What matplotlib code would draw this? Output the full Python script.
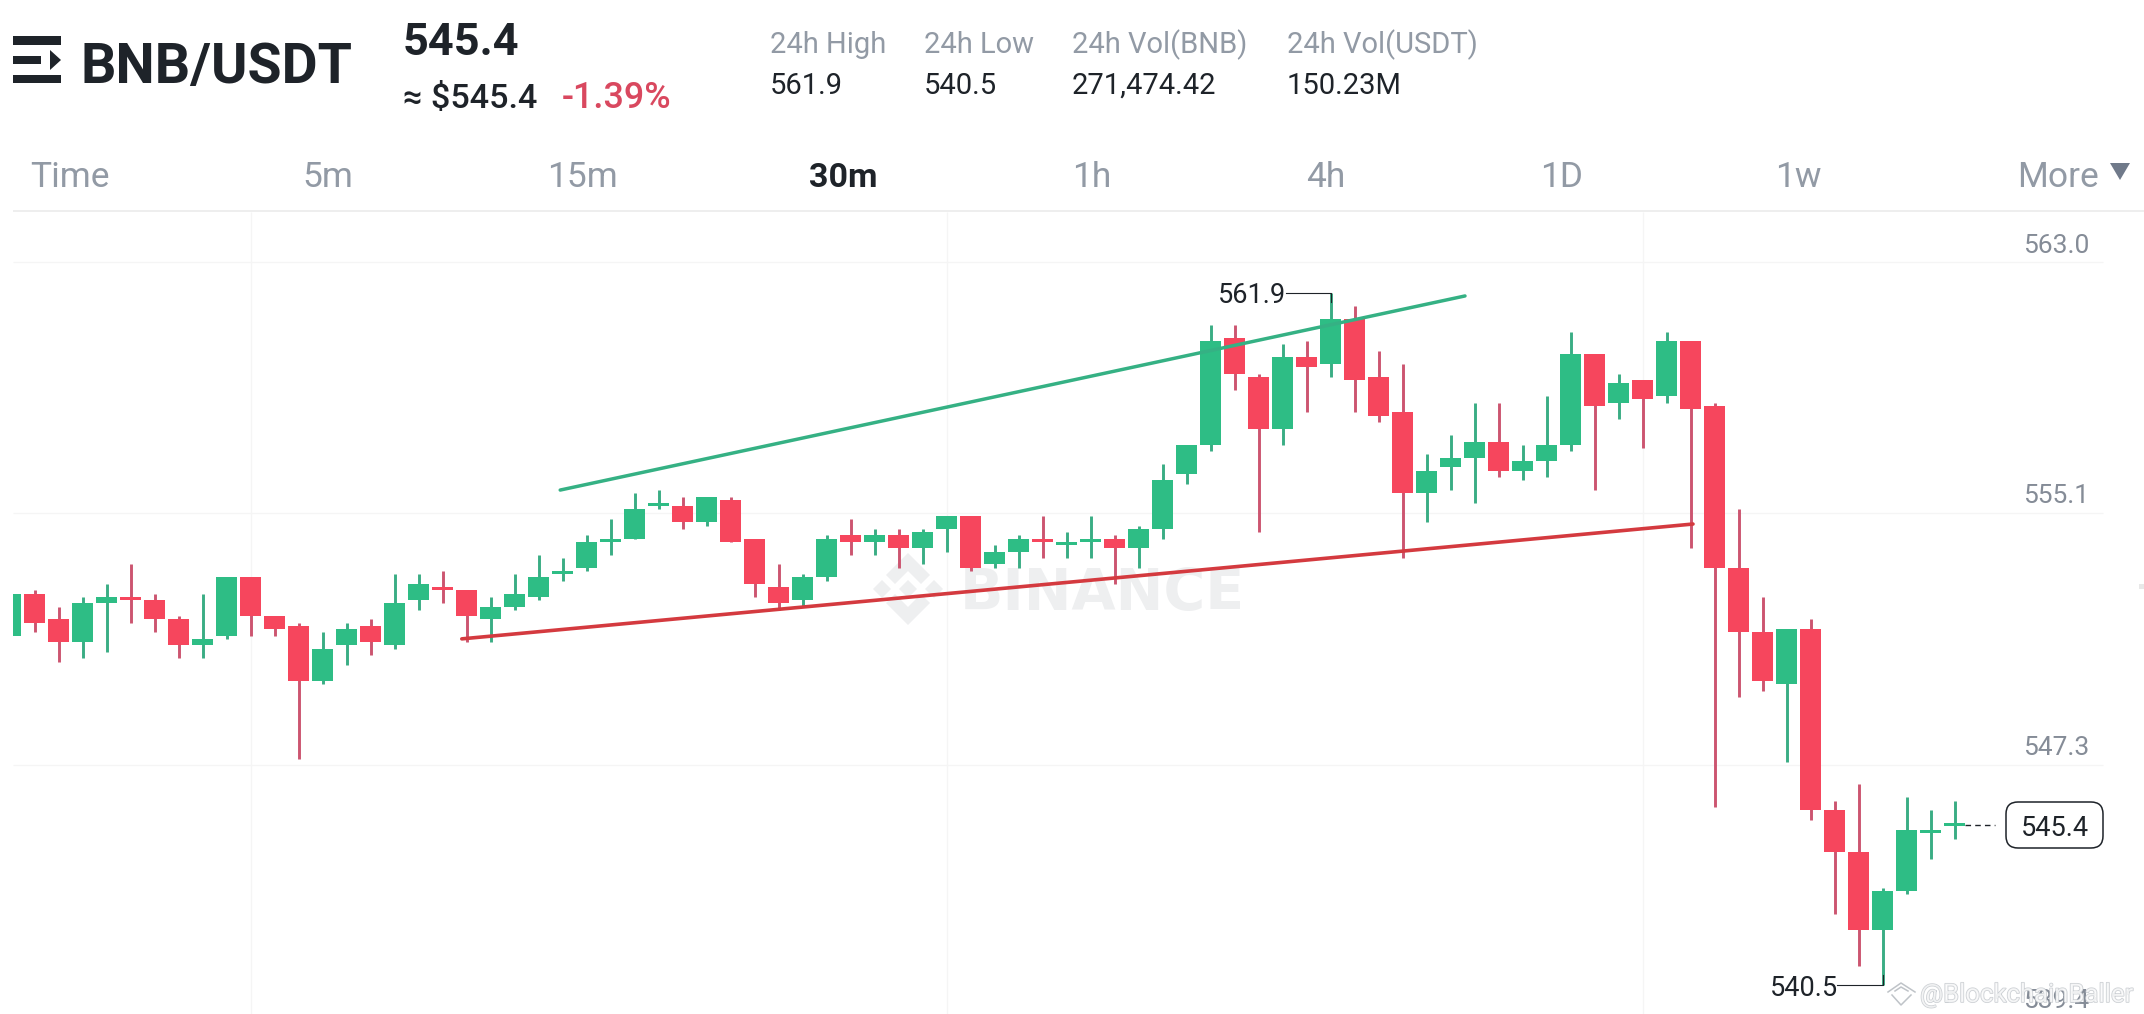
import matplotlib
matplotlib.use("Agg")
import matplotlib.patheffects as pe
import matplotlib.pyplot as plt
from matplotlib.patches import FancyBboxPatch, Polygon, Rectangle

plt.rcParams["font.family"] = ["Roboto", "DejaVu Sans"]

# ohlc, left to right
opens = [551.3, 552.6, 551.8, 551.1, 552.3, 552.5, 552.4, 551.8, 551.0, 551.3,
         553.1, 551.9, 551.6, 549.9, 551.0, 551.6, 551.0, 552.4, 552.8, 552.7,
         551.8, 552.2, 552.5, 553.2, 553.4, 554.2, 554.3, 555.3, 555.3, 554.8,
         555.5, 554.3, 552.8, 552.4, 553.1, 554.4, 554.2, 554.4, 554.0, 554.6,
         555.0, 553.5, 553.9, 554.3, 554.1, 554.2, 554.3, 554.0, 554.6, 556.3,
         557.2, 560.5, 559.3, 557.7, 559.9, 559.7, 561.1, 559.3, 558.2, 555.7,
         556.5, 556.8, 557.3, 556.4, 556.7, 557.2, 560.0, 558.5, 559.2, 558.7,
         560.4, 558.4, 553.4, 551.4, 549.8, 551.5, 545.9, 544.6, 542.2, 543.4,
         545.2, 545.4]
closes = [552.6, 551.7, 551.1, 552.3, 552.5, 552.4, 551.8, 551.0, 551.2, 553.1,
          551.9, 551.5, 549.9, 550.9, 551.5, 551.1, 552.3, 552.9, 552.7, 551.9,
          552.2, 552.6, 553.1, 553.3, 554.2, 554.3, 555.2, 555.4, 554.8, 555.6,
          554.2, 552.9, 552.3, 553.1, 554.3, 554.2, 554.4, 554.0, 554.5, 555.0,
          553.4, 553.9, 554.3, 554.2, 554.2, 554.3, 554.0, 554.6, 556.1, 557.2,
          560.4, 559.4, 557.7, 559.9, 559.6, 561.1, 559.2, 558.1, 555.7, 556.4,
          556.8, 557.3, 556.4, 556.7, 557.2, 560.0, 558.4, 559.1, 558.6, 560.4,
          558.3, 553.4, 551.4, 549.9, 551.5, 545.9, 544.6, 542.2, 543.4, 545.3,
          545.3, 545.5]
highs = [552.6, 552.7, 552.2, 552.5, 552.9, 553.5, 552.6, 551.9, 552.6, 553.1,
         553.1, 551.9, 551.7, 551.4, 551.7, 551.8, 553.2, 553.2, 553.3, 552.7,
         552.5, 553.2, 553.8, 553.7, 554.4, 554.9, 555.7, 555.8, 555.6, 555.6,
         555.6, 554.3, 553.5, 553.2, 554.4, 554.9, 554.6, 554.6, 554.6, 555.0,
         555.0, 554.1, 554.4, 555.0, 554.5, 555.0, 554.4, 554.7, 556.6, 557.2,
         560.9, 560.9, 559.4, 560.3, 560.4, 561.9, 561.5, 560.1, 559.7, 556.9,
         557.5, 558.5, 558.5, 557.2, 558.7, 560.7, 560.0, 559.4, 559.2, 560.7,
         560.4, 558.5, 555.2, 552.5, 551.5, 551.8, 546.2, 546.7, 543.5, 546.3,
         545.9, 546.2]
lows = [551.3, 551.4, 550.5, 550.6, 550.8, 551.7, 551.4, 550.6, 550.6, 551.2,
        551.3, 551.3, 547.5, 549.8, 550.4, 550.7, 550.9, 552.1, 552.3, 551.1,
        551.1, 552.1, 552.4, 553.0, 553.3, 553.8, 554.3, 555.2, 554.6, 554.7,
        554.2, 552.5, 552.1, 552.2, 553.0, 553.8, 553.8, 553.4, 553.5, 553.9,
        553.3, 553.4, 553.4, 553.7, 553.7, 553.7, 552.9, 553.4, 554.3, 556.0,
        557.0, 558.9, 554.5, 557.2, 558.2, 559.3, 558.2, 557.9, 553.7, 554.8,
        555.8, 555.4, 556.2, 556.1, 556.2, 557.0, 555.8, 558.0, 557.1, 558.5,
        554.0, 546.0, 549.4, 549.6, 547.4, 545.6, 542.7, 541.1, 540.5, 543.3,
        544.4, 545.0]

# gridlines sit where the picture has them, the labels are rounded
price_ticks = [562.85, 555.1, 547.3]
price_labels = ["563.0", "555.1", "547.3", "539.4"]
time_grid = [10, 39, 68]
last_price = 545.45

# drawn trend lines: candle index, price
green_line_x = [22.9, 60.6]
green_line_y = [555.8, 561.8]
red_line_x = [18.8, 70.1]
red_line_y = [551.2, 554.75]

stat_names = ["24h High", "24h Low", "24h Vol(BNB)", "24h Vol(USDT)"]
stat_values = ["561.9", "540.5", "271,474.42", "150.23M"]
tabs = ["Time", "5m", "15m", "30m", "1h", "4h", "1D", "1w", "More"]

GREEN = "#2EBD85"
RED = "#F6465D"
WICK_G = "#3AAD84"
WICK_R = "#CC5570"
DARK = "#1E2329"
GREY = "#929AA5"
AXIS_GREY = "#858C97"
GRID = "#F5F5F5"

W, H = 2144, 1014
fig = plt.figure(figsize=(W / 100, H / 100), dpi=100, facecolor="white")

# pixel canvas for the page around the chart
bg = fig.add_axes([0, 0, 1, 1], zorder=1)
bg.set_xlim(0, W)
bg.set_ylim(H, 0)
bg.axis("off")

# header
for x1, y0, y1 in [(61, 36, 45), (41, 56, 64), (61, 75, 83)]:
    bg.add_patch(Rectangle((13, y0), x1 - 13, y1 - y0, color=DARK, lw=0))
bg.add_patch(Polygon([(50, 50), (61, 60), (50, 70)], color=DARK, lw=0))
bg.text(81, 83, "BNB/USDT", fontsize=40, fontweight="bold", color=DARK)
bg.text(403, 55, "545.4", fontsize=32.5, fontweight="bold", color=DARK)
bg.text(403, 108, "≈ $545.4", fontsize=24.6, fontweight="medium", color=DARK)
bg.text(562, 108, "-1.39%", fontsize=25.9, fontweight="medium", color="#D9485F")

for x, name, val in zip([770, 924, 1072, 1287], stat_names, stat_values):
    bg.text(x, 53, name, fontsize=21, color=GREY)
    bg.text(x, 94, val, fontsize=21, color=DARK)

for x, name in zip([30, 302, 547, 809, 1072, 1306, 1540, 1775, 2017], tabs):
    if name == "30m":
        bg.text(x, 187, name, fontsize=24.5, fontweight="bold", color=DARK)
    else:
        bg.text(x, 187, name, fontsize=25.5, color=GREY)
bg.add_patch(Polygon([(2110, 163), (2130, 163), (2120, 180)], color="#707A8A", lw=0))
bg.add_patch(Rectangle((13, 210), W - 13, 2, color="#EEEEEE", lw=0))

# binance watermark behind the candles
wm = "#EEEFF0"
top_chevron = [(908, 553), (930, 575), (921, 584), (908, 571), (895, 584), (886, 575)]
bg.add_patch(Polygon(top_chevron, color=wm, lw=0))
bg.add_patch(Polygon([(x, 1178 - y) for x, y in top_chevron], color=wm, lw=0))
for cx in [882, 908, 934]:
    bg.add_patch(Polygon([(cx - 9, 589), (cx, 580), (cx + 9, 589), (cx, 598)], color=wm, lw=0))
bg.text(960, 610, "BINANCE", family="DejaVu Sans", fontsize=41, fontweight="bold", color=wm)

for lab, y in zip(price_labels, [253, 503, 755, 1008]):
    bg.text(2023, y, lab, fontsize=19, color=AXIS_GREY)

# small tick at the right edge
bg.add_patch(Rectangle((2139, 584), 5, 5, color="#E8E8E8", lw=0))

# chart axes, one index step is 24 px
ax = fig.add_axes([12.9 / W, 0, 1 - 12.9 / W, (H - 212) / H], zorder=2)
ax.patch.set_visible(False)
ax.set_xlim((12.9 - 10.6) / 24, (W - 10.6) / 24)
ax.set_ylim(555.1 + (512.7 - H) / 32.35, 555.1 + (512.7 - 212) / 32.35)
ax.axis("off")

xs = list(range(len(opens)))
x_end = 87.2
ax.hlines(price_ticks, ax.get_xlim()[0], x_end, color=GRID, lw=1, zorder=1)
ax.vlines(time_grid, *ax.get_ylim(), color=GRID, lw=1, zorder=1)

colors = [GREEN if c >= o else RED for o, c in zip(opens, closes)]
wick_colors = [WICK_G if c >= o else WICK_R for o, c in zip(opens, closes)]
ax.vlines(xs, lows, highs, colors=wick_colors, lw=2.1, zorder=3)
bottoms = [min(o, c) for o, c in zip(opens, closes)]
heights = [abs(o - c) for o, c in zip(opens, closes)]
ax.bar(xs, heights, bottom=bottoms, width=0.875, color=colors, lw=0, zorder=4)

ax.plot(green_line_x, green_line_y, color="#35B184", lw=2.5, zorder=5, solid_capstyle="round")
ax.plot(red_line_x, red_line_y, color="#D43A3F", lw=2.6, zorder=5, solid_capstyle="round")

# high / low markers
hi_i = highs.index(max(highs))
lo_i = lows.index(min(lows))
ax.plot([hi_i - 1.85, hi_i, hi_i], [max(highs)] * 2 + [max(highs) - 0.3], color=DARK, lw=0.8, zorder=6)
ax.plot([lo_i - 1.9, lo_i, lo_i], [min(lows)] * 2 + [min(lows) + 0.3], color=DARK, lw=0.8, zorder=6)
ax.text(hi_i - 1.85, max(highs), "561.9", fontsize=19.5, color=DARK, ha="right", va="center_baseline")
ax.text(lo_i - 1.85, min(lows), "540.5", fontsize=19.5, color=DARK, ha="right", va="center_baseline")

# last price
ax.plot([xs[-1] + 0.42, xs[-1] + 1.7], [last_price] * 2, color=DARK, lw=1, ls=(0, (4, 3)), zorder=6)
fg = fig.add_axes([0, 0, 1, 1], zorder=3)
fg.patch.set_visible(False)
fg.set_xlim(0, W)
fg.set_ylim(H, 0)
fg.axis("off")
fg.add_patch(FancyBboxPatch((2014, 810), 81, 30, boxstyle="round,pad=8,rounding_size=12",
                            fc="white", ec=DARK, lw=1.1))
fg.text(2055, 825, "545.4", fontsize=19.5, color=DARK, ha="center", va="center_baseline")

# repost watermark over the corner, pale letters with a thin grey outline
wm2 = "#BFC3C8"
fg.text(1920, 1002, "@BlockchainBaller", fontsize=18.5, color=(1, 1, 1, 0.45),
        path_effects=[pe.withStroke(linewidth=1.1, foreground=wm2, alpha=0.8), pe.Normal()])
fg.plot([1888, 1901, 1915], [992, 983, 992], color=wm2, lw=1.1)
fg.plot([1895, 1901, 1908], [991, 987, 991], color=wm2, lw=1.1)
fg.plot([1892, 1901, 1911], [995, 1005, 995], color=wm2, lw=1.1)

fig.savefig("out.png", dpi=100)
